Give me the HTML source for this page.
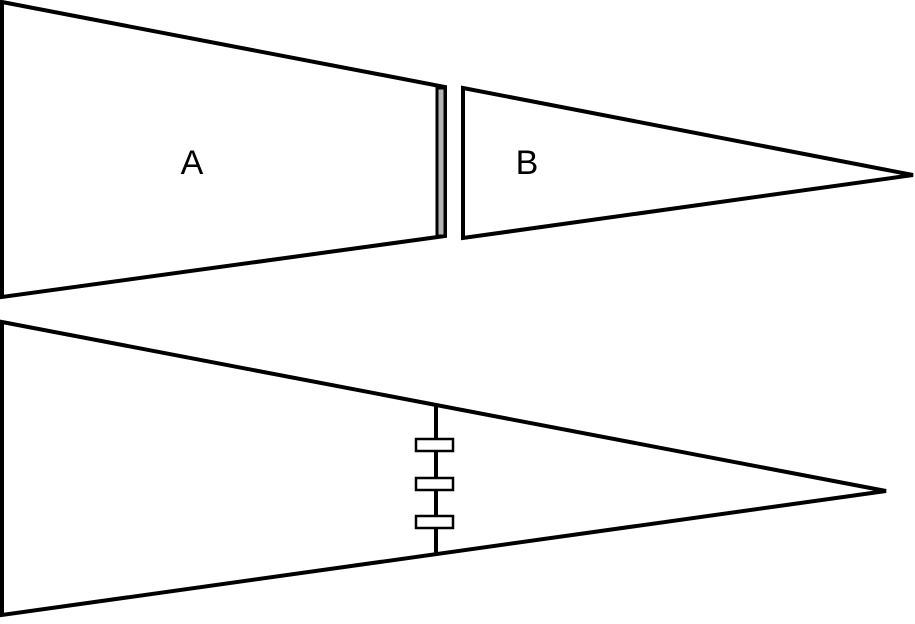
<!DOCTYPE html>
<html><head><style>body{margin:0;background:#fff}</style></head><body>
<svg width="915" height="619" xmlns="http://www.w3.org/2000/svg">
<g fill="none" stroke="#000" stroke-width="4" stroke-linejoin="miter">
<polygon points="2,2 445,87 445,236 2,297" fill="#fff"/>
<rect x="437" y="88" width="8" height="148" fill="#b3b3b3" stroke-width="3"/>
<polygon points="463,88 913,175 463,238" fill="#fff"/>
<polygon points="2,322 886,491 2,615" fill="#fff"/>
<line x1="436" y1="405" x2="436" y2="555"/>
</g>
<g fill="#fff" stroke="#000" stroke-width="2.5">
<rect x="416" y="439" width="37" height="12"/>
<rect x="416" y="478" width="37" height="12"/>
<rect x="416" y="516" width="37" height="12"/>
</g>
<text x="192" y="174" font-family="Liberation Sans, sans-serif" font-size="34" text-anchor="middle">A</text>
<text x="527" y="174" font-family="Liberation Sans, sans-serif" font-size="34" text-anchor="middle">B</text>
</svg>
</body></html>
